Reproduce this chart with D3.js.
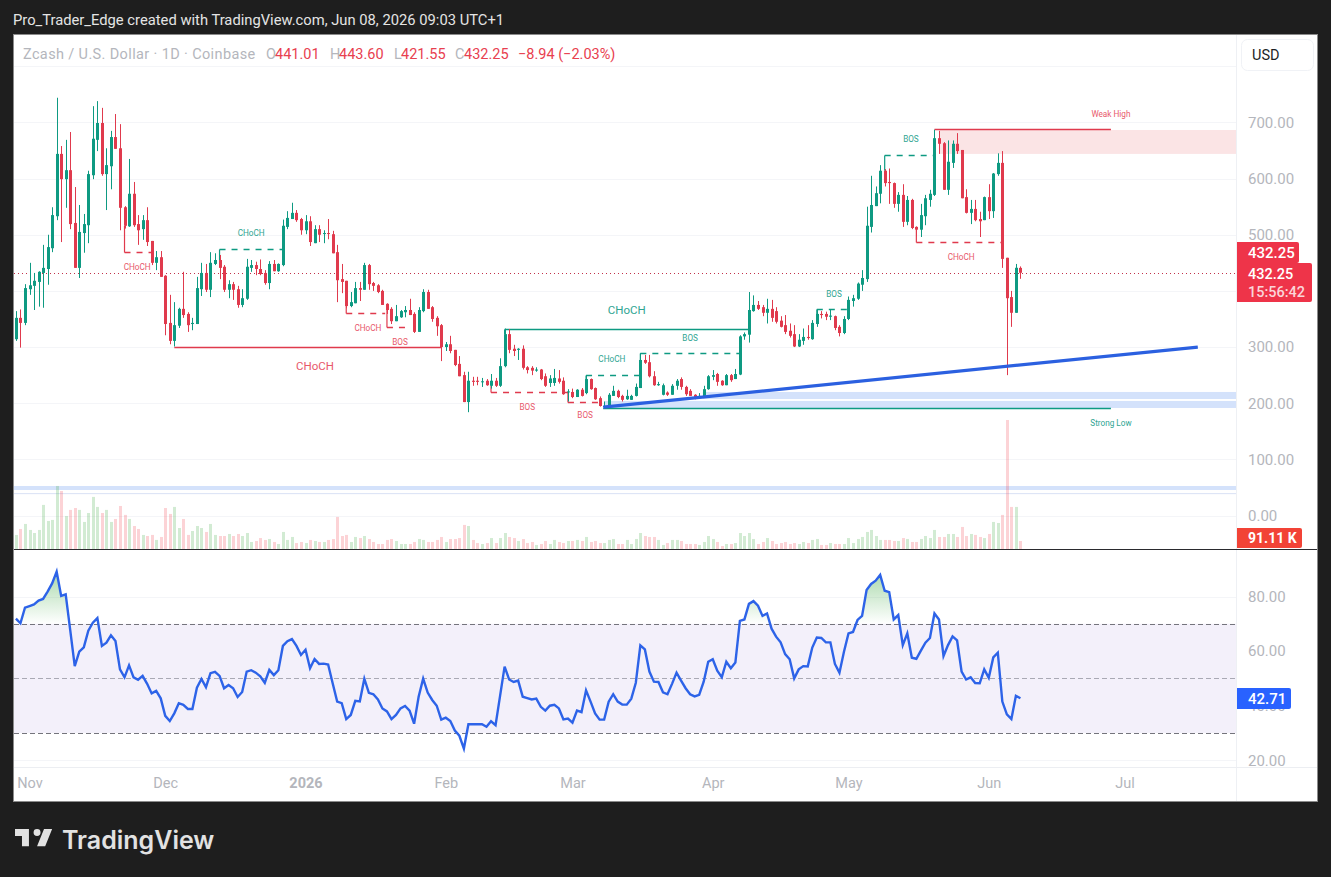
<!DOCTYPE html>
<html>
<head>
<meta charset="utf-8">
<title>ZECUSD daily</title>
<script src="https://cdn.jsdelivr.net/npm/d3@7"></script>
<style>
  html, body { margin: 0; padding: 0; background: #1e1e1e; }
  svg { display: block; font-family: Roboto, sans-serif; }
</style>
</head>
<body>
<svg id="chart" width="1331" height="877"></svg>
<script>
// Daily candles for ZEC/USD, oldest first, starting 2025-10-29.
const firstSession = "2025-10-29";
const opens = [
  314,352,343,403,409,416,432,439,476,533, 644,599,615,521,441,503,517,606,669,699,
  608,622,674,654,549,515,573,519,510,526, 489,450,460,427,343,311,338,368,359,341,
  341,403,432,402,448,455,443,402,412,403, 375,386,441,446,439,432,414,448,435,446,
  514,528,539,528,508,524,485,510,502,503, 501,469,421,418,373,378,405,402,446,414,
  410,400,377,368,346,353,362,366,359,327, 364,398,371,352,339,300,305,295,270,250,
  202,240,240,238,240,231,240,231,266,323, 297,295,297,264,263,258,260,248,236,236,
  244,240,220,220,211,224,218,243,227,209, 194,195,213,222,213,207,206,213,227,277,
  273,248,232,215,219,215,231,243,229,222, 215,211,212,225,247,252,240,232,250,243,
  251,319,322,364,375,371,361,368,364,347, 339,329,323,301,311,318,314,341,359,359,
  354,355,336,325,350,382,386,411,421,514, 551,573,614,594,592,555,571,523,562,514,
  509,533,562,571,672,663,580,628,662,651, 567,539,546,528,526,567,542,608,628,459,
  389,361,441.01
];
const highs = [
  364,367,412,450,432,435,482,500,549,744, 658,669,683,585,553,537,614,729,738,726,
  654,685,715,697,551,635,594,535,535,549, 489,471,471,428,393,380,370,434,362,352,
  425,450,448,469,467,464,446,419,416,409, 403,457,455,452,456,437,453,455,449,527,
  542,557,544,530,535,533,517,517,508,528, 507,482,448,418,398,416,416,450,448,416,
  412,402,378,371,375,366,373,386,362,371, 403,402,373,355,341,309,320,295,284,256,
  256,247,247,245,243,252,245,280,333,332, 304,298,303,266,266,264,261,253,250,261,
  259,246,225,226,225,227,250,244,228,212, 203,218,231,224,215,224,215,235,289,286,
  286,257,238,235,221,234,243,246,231,225, 216,218,231,250,259,254,241,252,252,261,
  321,326,398,392,382,375,386,384,371,355, 357,342,339,323,333,339,348,367,364,363,
  366,356,339,355,390,393,415,437,550,605, 586,624,617,618,593,576,590,569,564,515,
  555,571,580,687,685,665,668,668,681,651, 581,562,562,541,568,590,610,645,649,459,
  400,448,443.6
];
const lows = [
  311,299,339,393,366,372,370,411,469,526, 487,548,510,441,423,468,485,599,649,605,
  544,581,653,508,511,514,514,482,491,480, 446,437,425,321,305,301,334,352,327,330,
  341,391,398,389,446,421,398,387,384,370, 371,384,434,428,428,411,403,435,434,444,
  510,528,523,500,501,480,485,487,485,492, 467,380,396,369,371,378,382,402,402,400,
  396,375,359,341,346,352,353,357,325,327, 362,368,345,320,275,293,289,266,248,202,
  184,231,232,229,231,226,229,229,264,289, 284,277,260,253,250,256,241,229,229,231,
  235,215,203,209,211,212,216,224,206,194, 193,194,213,209,203,206,206,212,227,270,
  246,231,231,214,213,215,224,224,213,213, 207,210,212,224,241,231,231,232,238,243,
  250,313,308,363,366,355,342,345,342,335, 323,317,300,300,304,313,313,336,351,348,
  348,330,319,323,348,372,384,400,416,504, 551,556,586,555,548,541,514,517,510,497,
  496,517,550,569,644,580,571,619,644,565, 538,519,524,496,526,528,530,605,441,250,
  336,361,421.55
];
const closes = [
  352,343,405,410,418,434,441,478,535,644, 599,615,519,441,505,519,608,671,699,608,
  624,674,653,548,516,573,517,508,526,487, 450,460,425,341,311,339,368,357,339,343,
  405,432,402,450,455,441,402,412,402,375, 387,443,446,439,430,414,448,435,448,516,
  530,539,526,508,524,487,510,500,503,502, 467,419,416,373,380,405,402,446,412,409,
  398,375,366,346,355,364,366,357,327,366, 398,368,350,337,300,305,293,268,248,202,
  240,238,238,239,232,240,231,266,323,295, 293,297,263,259,258,260,243,231,244,245,
  238,216,221,211,224,213,243,225,207,195, 195,215,222,211,206,213,213,229,277,272,
  248,232,234,232,215,231,240,229,216,213, 209,213,225,248,250,238,232,250,241,252,
  319,323,366,375,368,361,368,352,345,336, 327,320,301,313,318,316,343,359,357,354,
  356,334,325,350,384,387,413,423,516,553, 574,614,592,592,555,571,523,562,512,509,
  535,565,573,672,662,580,630,662,649,565, 539,546,526,524,567,542,609,628,457,387,
  361,441.19,432.25
];
// Session volume in thousands of ZEC.
const volumes = [
  160,228,285,217,182,217,502,319,331,718, 661,376,445,467,445,308,410,593,479,410,
  445,308,342,490,388,342,262,228,160,148, 160,103,137,467,399,479,239,342,160,205,
  262,239,194,285,160,148,148,171,148,171, 148,182,80,91,125,103,114,80,57,194,
  103,137,68,80,68,103,91,80,80,103, 114,365,148,160,80,137,125,148,114,80,
  57,57,103,114,91,57,57,57,80,114, 103,80,80,103,137,80,114,114,125,274,
  262,103,68,57,68,125,68,125,182,137, 125,91,
  114,68,80,46,57,91,57,103,80,68, 91,91,103,91,137,80,91,68,68,103,
  114,57,57,103,57,114,182,148,137,137, 103,46,68,103,103,91,57,57,57,46,
  80,148,114,80,34,57,57,68,182,148, 182,114,57,80,125,91,57,68,80,57,
  68,57,80,68,103,114,46,46,68,57, 57,57,125,68,114,137,194,217,148,103,
  103,103,91,91,125,114,80,80,114,148, 125,217,137,137,171,171,137,251,148,171,
  160,137,125,171,308,296,388,1469,479,479, 91.11
];
// RSI(14) closing values, one per session.
const rsiValues = [
  71.9,70.2,75.9,76.5,77.1,78.5,79.1,81.8,84.8,89.1, 80.2,80.8,67.7,54.5,59.8,61.4,67.5,70.4,72.1,61.9,
  63.1,65.8,63.7,53.3,50.4,54.8,50.4,49.5,50.9,48.0, 44.5,45.4,42.7,36.3,34.4,37.2,40.9,40.3,38.8,38.8,
  46.6,49.8,46.8,51.9,52.4,50.9,46.4,47.6,46.4,43.2, 45.0,52.5,53.0,52.1,50.8,48.4,53.1,51.2,53.0,61.9,
  63.6,64.4,61.9,58.6,60.5,53.7,57.1,55.3,55.4,55.1, 48.2,41.5,40.9,35.1,36.6,41.8,41.6,49.9,44.7,44.2,
  42.3,39.0,37.9,35.1,36.6,39.0,39.9,38.2,33.4,43.3, 49.9,44.8,42.1,40.0,34.9,35.6,34.4,30.9,29.0,24.3,
  33.2,33.2,33.2,33.2,32.3,34.3,32.9,43.6,54.3,49.6, 48.7,49.2,
  43.3,42.8,42.3,42.6,39.6,38.2,40.0,40.3,39.0,35.0, 35.3,33.8,38.2,37.6,45.6,41.5,37.2,34.9,34.9,41.5,
  44.2,41.5,40.4,40.4,42.6,48.4,62.1,60.6,52.5,48.8, 48.7,44.9,44.2,48.0,52.1,49.2,46.4,44.2,43.4,44.0,
  48.8,56.1,57.0,52.8,50.4,56.1,53.7,55.8,71.1,71.6, 77.3,78.3,76.6,72.9,73.8,68.2,65.3,63.2,58.9,57.0,
  50.0,53.3,54.5,54.4,61.3,65.0,64.8,63.2,63.2,55.3, 52.1,59.8,66.5,67.0,71.4,72.9,82.4,84.6,85.8,87.9,
  82.1,81.6,71.6,73.2,62.2,66.5,57.6,57.2,60.2,63.1, 64.8,73.8,71.6,58.2,62.2,65.4,63.9,52.5,49.6,50.4,
  48.3,48.2,53.3,50.2,57.7,59.4,41.5,36.8,35.1,43.6, 42.71
];

const priceLabels = [700, 600, 500, 400, 300, 200, 100, 0];
const priceGrid = [800, 700, 600, 500, 400, 300, 200, 100, 0];
const rsiLabels = [80, 60, 40, 20];
const timeTicks = ["2025-11-01","2025-12-01","2026-01-01","2026-02-01","2026-03-01","2026-04-01","2026-05-01","2026-06-01","2026-07-01"];
const timeNames = ["Nov","Dec","2026","Feb","Mar","Apr","May","Jun","Jul"];

// Market-structure drawings, positioned by session number and price:
// [from, to, price, side, style, stem price]
const structureLines = [
  [24, 30, 469, "bear", "dash", 516],
  [45, 59, 474, "bull", "dash", 455],
  [35, 94, 300, "bear", "solid", null],
  [73, 81.6, 360, "bear", "dash", 373],
  [82, 86.5, 336, "bear", "dash", 366],
  [105, 122, 220, "bear", "dash", 231],
  [122, 129, 203, "bear", "dash", 220],
  [108, 162, 333, "bull", "solid", 323],
  [126, 138, 251, "bull", "dash", 243],
  [138, 160, 289, "bull", "dash", 277],
  [177, 184, 367, "bull", "dash", 359],
  [192, 203, 642, "bull", "dash", 614],
  [199, 218, 487, "bear", "dash", 509],
  [203, 242, 688, "bear", "solid", null],
  [129.8, 242, 191.5, "bull", "solid", null]
];
// [session, price, text, side, font size]
const structureLabels = [
  [26.8, 442.6, "CHoCH", "bear", 8.2],
  [52, 503, "CHoCH", "bull", 8.2],
  [66.1, 266, "CHoCH", "bear", 11.5],
  [84.9, 309, "BOS", "bear", 8.2],
  [77.8, 334, "CHoCH", "bear", 8.2],
  [113, 193, "BOS", "bear", 8.2],
  [125.8, 179, "BOS", "bear", 8.2],
  [135, 366, "CHoCH", "bull", 11.5],
  [131.7, 279, "CHoCH", "bull", 8.2],
  [149, 316, "BOS", "bull", 8.2],
  [180.8, 394, "BOS", "bull", 8.2],
  [197.8, 670, "BOS", "bull", 8.2],
  [208.9, 460, "CHoCH", "bear", 8.2],
  [242, 715, "Weak High", "bear", 8.2],
  [242, 165, "Strong Low", "bull", 8.2]
];
// Supply and demand zones: [from session, top price, bottom price, colour key]; they run to the pane edge.
const zones = [
  [204, 686.6, 644, "supply"],
  [151.8, 220, 207.5, "demand"],
  [130, 204, 191.5, "demand"],
  [-10, 52.5, 45.4, "demand"],
  [-10, 40, 38, "demandThin"]
];
const trendLine = [[129.8, 193], [261.2, 300]];
const legendParts = [
  ["Zcash / U.S. Dollar · 1D · Coinbase", 23, "muted", 0.37],
  ["O", 266, "muted", 0], ["441.01", 275, "down", 0],
  ["H", 330, "muted", 0], ["443.60", 339, "down", 0],
  ["L", 394, "muted", 0], ["421.55", 401, "down", 0],
  ["C", 455, "muted", 0], ["432.25", 464, "down", 0],
  ["−8.94 (−2.03%)", 518, "down", 0]
];

const colors = {
  bull: "#0e9a82", bear: "#e03a4d",
  bullText: "#2fa592", bearText: "#e8596b",
  bullVol: "rgba(76,175,80,0.25)", bearVol: "rgba(242,54,69,0.22)",
  supply: "#fbe4e5", demand: "#d4e2fb", demandThin: "#dde5f6",
  grid: "#f4f5f8", axisText: "#b4b6bc", rsi: "#2d63e8", band: "#f3f0fa"
};

const svg = d3.select("#chart");
const pane = { left: 14, right: 1236, top: 35, split: 549.5, rsiBottom: 767.5, bottom: 801 };

const dayOf = i => d3.utcDay.offset(new Date(firstSession + "T00:00:00Z"), Math.floor(i));
const x = d3.scaleUtc()
  .domain([new Date("2025-11-01T00:00:00Z"), new Date("2026-07-01T00:00:00Z")])
  .range([29.5, 1124.5]);
// Session number to pixel, allowing fractional sessions for drawings.
const xAt = i => x(dayOf(i)) + (i - Math.floor(i)) * (x(dayOf(1)) - x(dayOf(0)));

const y = d3.scaleLinear().domain([0, 700]).range([515.5, 122.45]);
const yVol = d3.scaleLinear().domain([0, 1469]).range([549, 420]);
const yRsi = d3.scaleLinear().domain([20, 80]).range([760.3, 596.5]);

// Panel and page furniture
svg.append("rect").attr("width", 1331).attr("height", 877).attr("fill", "#1e1e1e");
svg.append("rect").attr("x", 13.5).attr("y", 34.5).attr("width", 1304).attr("height", 767)
  .attr("fill", "#fff").attr("stroke", "#8b8b8b");

svg.append("text").attr("x", 13).attr("y", 25).attr("fill", "#e4e4e4")
  .attr("font-size", 14.75).text("Pro_Trader_Edge created with TradingView.com, Jun 08, 2026 09:03 UTC+1");

const defs = svg.append("defs");
defs.append("clipPath").attr("id", "mainClip").append("rect")
  .attr("x", pane.left).attr("y", pane.top).attr("width", pane.right - pane.left).attr("height", pane.split - pane.top);
defs.append("clipPath").attr("id", "rsiClip").append("rect")
  .attr("x", pane.left).attr("y", pane.split).attr("width", pane.right - pane.left).attr("height", pane.rsiBottom - pane.split);
const grad = defs.append("linearGradient").attr("id", "overbought")
  .attr("gradientUnits", "userSpaceOnUse").attr("x1", 0).attr("x2", 0)
  .attr("y1", yRsi(90)).attr("y2", yRsi(70));
grad.append("stop").attr("offset", 0).attr("stop-color", "#4caf50").attr("stop-opacity", 0.5);
grad.append("stop").attr("offset", 1).attr("stop-color", "#4caf50").attr("stop-opacity", 0);

// Gridlines
svg.append("g").selectAll("line").data(priceGrid).join("line")
  .attr("x1", pane.left).attr("x2", pane.right)
  .attr("y1", d => Math.round(y(d)) + 0.5).attr("y2", d => Math.round(y(d)) + 0.5)
  .attr("stroke", colors.grid);
svg.append("g").selectAll("line").data(rsiLabels).join("line")
  .attr("x1", pane.left).attr("x2", pane.right)
  .attr("y1", d => Math.round(yRsi(d)) + 0.5).attr("y2", d => Math.round(yRsi(d)) + 0.5)
  .attr("stroke", colors.grid);

const main = svg.append("g").attr("clip-path", "url(#mainClip)");

// Zones
main.append("g").selectAll("rect").data(zones).join("rect")
  .attr("x", d => d[0] < 0 ? pane.left : xAt(d[0]))
  .attr("width", d => pane.right - (d[0] < 0 ? pane.left : xAt(d[0])))
  .attr("y", d => y(d[1]))
  .attr("height", d => y(d[2]) - y(d[1]))
  .attr("fill", d => colors[d[3]]);

// Volume histogram
const sessions = d3.range(opens.length);
const isUp = i => closes[i] >= opens[i];
main.append("g").selectAll("rect").data(sessions).join("rect")
  .attr("x", i => Math.round(xAt(i)) - 1)
  .attr("width", 3)
  .attr("y", i => yVol(volumes[i]))
  .attr("height", i => yVol(0) - yVol(volumes[i]))
  .attr("fill", i => isUp(i) ? colors.bullVol : colors.bearVol);

// Last price marker
main.append("line").attr("x1", pane.left).attr("x2", pane.right)
  .attr("y1", Math.round(y(closes[closes.length - 1])) + 0.5)
  .attr("y2", Math.round(y(closes[closes.length - 1])) + 0.5)
  .attr("stroke", "#c2314a").attr("stroke-dasharray", "1 3");

// Structure breaks
const structure = main.append("g");
structureLines.forEach(([from, to, price, side, style, stem]) => {
  const c = colors[side];
  structure.append("line").attr("x1", xAt(from)).attr("x2", xAt(to))
    .attr("y1", Math.round(y(price)) + 0.5).attr("y2", Math.round(y(price)) + 0.5)
    .attr("stroke", c).attr("stroke-width", 1.35)
    .attr("stroke-dasharray", style === "dash" ? "6 6" : null);
  if (stem !== null) {
    structure.append("line").attr("x1", xAt(from)).attr("x2", xAt(from))
      .attr("y1", y(stem)).attr("y2", Math.round(y(price)) + 0.5)
      .attr("stroke", c).attr("stroke-width", 1.2);
  }
});
structure.selectAll("text").data(structureLabels).join("text")
  .attr("x", d => xAt(d[0])).attr("y", d => y(d[1]))
  .attr("text-anchor", "middle").attr("dominant-baseline", "central")
  .attr("font-size", d => d[4])
  .attr("fill", d => colors[d[3] + "Text"])
  .text(d => d[2]);

// Candles
const candle = main.append("g").selectAll("g").data(sessions).join("g")
  .attr("fill", i => isUp(i) ? colors.bull : colors.bear);
candle.append("rect")
  .attr("x", i => Math.round(xAt(i)))
  .attr("width", 1)
  .attr("y", i => y(highs[i]))
  .attr("height", i => y(lows[i]) - y(highs[i]));
candle.append("rect")
  .attr("x", i => Math.round(xAt(i)) - 1)
  .attr("width", 3)
  .attr("y", i => y(Math.max(opens[i], closes[i])))
  .attr("height", i => Math.max(1, Math.abs(y(opens[i]) - y(closes[i]))));

// Trend line drawn over the candles
main.append("line")
  .attr("x1", xAt(trendLine[0][0])).attr("y1", y(trendLine[0][1]))
  .attr("x2", xAt(trendLine[1][0])).attr("y2", y(trendLine[1][1]))
  .attr("stroke", "#2b60e0").attr("stroke-width", 3.2);

// RSI pane
const rsiPane = svg.append("g").attr("clip-path", "url(#rsiClip)");
rsiPane.append("rect").attr("x", pane.left).attr("width", pane.right - pane.left)
  .attr("y", yRsi(70)).attr("height", yRsi(30) - yRsi(70)).attr("fill", colors.band);
rsiPane.selectAll("line.level").data([70, 50, 30]).join("line")
  .attr("class", "level")
  .attr("x1", pane.left).attr("x2", pane.right)
  .attr("y1", d => Math.round(yRsi(d)) + 0.5).attr("y2", d => Math.round(yRsi(d)) + 0.5)
  .attr("stroke", d => d === 50 ? "#a9a9b4" : "#74747c")
  .attr("stroke-dasharray", "5 3");
rsiPane.append("path").datum(sessions)
  .attr("d", d3.area().x(i => xAt(i)).y0(yRsi(70)).y1(i => yRsi(Math.max(70, rsiValues[i]))))
  .attr("fill", "url(#overbought)");
rsiPane.append("path").datum(sessions)
  .attr("d", d3.line().x(i => xAt(i)).y(i => yRsi(rsiValues[i])))
  .attr("fill", "none").attr("stroke", colors.rsi).attr("stroke-width", 2.4);

// Axis rules and pane separators
svg.append("line").attr("x1", pane.right + 0.5).attr("x2", pane.right + 0.5)
  .attr("y1", 35).attr("y2", 801).attr("stroke", "#eef0f4");
svg.append("line").attr("x1", 14).attr("x2", 1317)
  .attr("y1", pane.rsiBottom).attr("y2", pane.rsiBottom).attr("stroke", "#eceef2");
svg.append("line").attr("x1", 14).attr("x2", 1317)
  .attr("y1", pane.split).attr("y2", pane.split).attr("stroke", "#2a2a2e");

// Axes
function styleAxis(g) {
  g.select(".domain").remove();
  g.selectAll("line").remove();
  g.selectAll("text").attr("fill", colors.axisText).attr("font-size", 15).attr("font-family", "Roboto, sans-serif");
}
svg.append("g").attr("transform", `translate(${pane.right + 1},0)`)
  .call(d3.axisRight(y).tickValues(priceLabels).tickSize(0).tickPadding(11).tickFormat(d3.format(".2f")))
  .call(styleAxis);
svg.append("g").attr("transform", `translate(${pane.right + 1},0)`)
  .call(d3.axisRight(yRsi).tickValues(rsiLabels).tickSize(0).tickPadding(11).tickFormat(d3.format(".2f")))
  .call(styleAxis);
const timeLookup = new Map(timeTicks.map((t, k) => [+new Date(t + "T00:00:00Z"), timeNames[k]]));
svg.append("g").attr("transform", `translate(0,${pane.rsiBottom + 7.5})`)
  .call(d3.axisBottom(x).tickValues(timeTicks.map(t => new Date(t + "T00:00:00Z"))).tickSize(0)
    .tickPadding(3).tickFormat(d => timeLookup.get(+d)))
  .call(styleAxis)
  .call(g => g.selectAll("text").attr("font-size", 14.5)
    .filter(function () { return this.textContent === "2026"; }).attr("font-weight", 700));

// Currency button
svg.append("rect").attr("x", 1241.5).attr("y", 39.5).attr("width", 72).attr("height", 31).attr("rx", 6)
  .attr("fill", "#fff").attr("stroke", "#f0f2f6");
svg.append("text").attr("x", 1252).attr("y", 60).attr("font-size", 14.5).attr("fill", "#1c1f26").text("USD");

// Value tags
function tag(xPos, yPos, w, h, fill) {
  svg.append("path")
    .attr("d", `M${xPos},${yPos}h${w - 2}q2,0 2,2v${h - 4}q0,2 -2,2h${-(w - 2)}z`)
    .attr("fill", fill);
}
function tagText(yPos, str, fill, weight, size) {
  svg.append("text").attr("x", 1248).attr("y", yPos).attr("font-size", size || 15)
    .attr("font-weight", weight || 500).attr("fill", fill).text(str);
}
tag(1237, 242, 62, 21, "#ee3449");
tag(1237, 263, 75, 39, "#ee3449");
tagText(258, d3.format(".2f")(closes[closes.length - 1]), "#fff");
tagText(278.5, d3.format(".2f")(closes[closes.length - 1]), "#fff", 500, 14.5);
tagText(297, "15:56:42", "#fbd5d9", 500, 14.5);
tag(1237, 528, 65, 20, "#f24336");
tagText(543, "91.11 K", "#fff", 700, 14);
tag(1237, 688, 54, 21, "#2962ff");
tagText(704, d3.format(".2f")(rsiValues[rsiValues.length - 1]), "#fff");

// Legend line
svg.append("g").selectAll("text").data(legendParts).join("text")
  .attr("x", d => d[1]).attr("y", 59).attr("font-size", 14.5)
  .attr("letter-spacing", d => d[3])
  .attr("fill", d => d[2] === "muted" ? colors.axisText : "#e8404f")
  .text(d => d[0]);

// TradingView mark and wordmark
svg.append("path")
  .attr("transform", "translate(12.7,822) scale(1.16)")
  .attr("d", "M14 6H2v6h6v9h6V6Zm14 15h-7l6-15h7l-6 15Zm-7-9a3 3 0 1 0 0-6 3 3 0 0 0 0 6Z")
  .attr("fill", "#e2e2e2");
svg.append("text").attr("x", 62).attr("y", 849).attr("font-family", "Inter, sans-serif")
  .attr("font-size", 25).attr("font-weight", 600).attr("fill", "#e2e2e2").text("TradingView");
</script>
</body>
</html>
